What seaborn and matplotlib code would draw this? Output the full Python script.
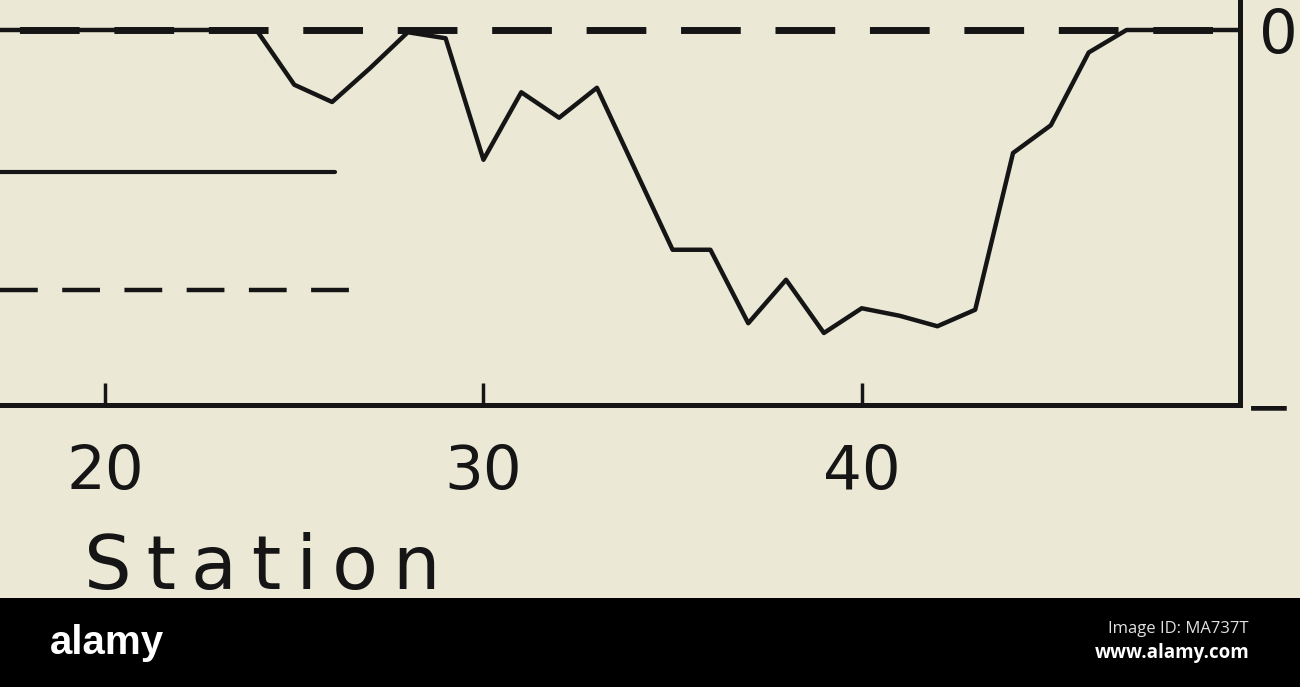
import numpy as np
import pandas as pd
import matplotlib
matplotlib.use("Agg")
import matplotlib.pyplot as plt
import matplotlib.transforms as mtransforms
from matplotlib.patches import Rectangle
import seaborn as sns

# ---- data ----
stations = [17, 18, 19, 20, 21, 22, 23, 24, 25, 26, 27, 28, 29, 30, 31, 32, 33,
            34, 35, 36, 37, 38, 39, 40, 41, 42, 43, 44, 45, 46, 47, 48, 49, 50]
values = [0.0, 0.0, 0.0, 0.0, 0.0, 0.0, 0.0, 0.0, -0.73, -0.96, -0.51, -0.03,
          -0.11, -1.73, -0.83, -1.17, -0.77, -1.85, -2.93, -2.93, -3.91, -3.33,
          -4.04, -3.71, -3.81, -3.95, -3.73, -1.64, -1.27, -0.30, 0.0, 0.0, 0.0, 0.0]
x_ticks = [20, 30, 40]
x_tick_labels = ["20", "30", "40"]
y_ticks = [0]
y_tick_labels = ["0"]
y_bottom = -5
y_bottom_label = "\u2212"
x_label = "S\u2009t\u2009a\u2009t\u2009i\u2009o\u2009n"

df = pd.DataFrame({"station": stations, "value": values})

BG = "#ebe8d6"
INK = "#151515"

sns.set_theme(style="white")
plt.rcParams["font.family"] = ["DejaVu Sans"]

fig = plt.figure(figsize=(13, 6.87), dpi=100)
fig.patch.set_facecolor(BG)

ax = fig.add_axes([0.0, 282 / 687, 1240 / 1300, 405 / 687])
ax.set_facecolor(BG)

# zero reference line (thick dashes)
ax.axhline(0, color=INK, lw=5, linestyle=(10.8, (8.6, 5.0)), zorder=2)

# data line
sns.lineplot(data=df, x="station", y="value", color=INK, lw=3.2, ax=ax,
             zorder=3, legend=False)

# legend key samples (their labels lie outside the cropped view)
ax.plot([0, 0.270], [0.575, 0.575], transform=ax.transAxes, color=INK, lw=3.0)
ax.plot([0, 0.284], [0.284, 0.284], transform=ax.transAxes, color=INK, lw=3.2,
        linestyle=(0, (8.5, 5.5)))

ax.set_xlim(17.22, 50)
ax.set_ylim(y_bottom, 0.4)

for s in ["left", "top"]:
    ax.spines[s].set_visible(False)
for s in ["right", "bottom"]:
    ax.spines[s].set_visible(True)
    ax.spines[s].set_color(INK)
    ax.spines[s].set_linewidth(3.6)

ax.set_xticks(x_ticks)
ax.set_xticklabels(x_tick_labels)
ax.tick_params(axis="x", direction="in", length=16, width=2.5, color=INK,
               labelsize=44, pad=27, labelcolor=INK, bottom=True)

ax.yaxis.tick_right()
ax.set_yticks(y_ticks)
ax.set_yticklabels(y_tick_labels)
ax.tick_params(axis="y", length=0, labelsize=44, pad=14, labelcolor=INK,
               left=False, right=True)
ax.set_xlabel("")
ax.set_ylabel("")

# partly visible label at the bottom of the right axis
blend = mtransforms.blended_transform_factory(ax.transAxes, ax.transData)
shift = mtransforms.ScaledTranslation(0, -5 / 100, fig.dpi_scale_trans)
ax.text(1.0 + 5 / 1240, y_bottom, y_bottom_label, transform=blend + shift,
        fontsize=41, color=INK, ha="left", va="center", clip_on=False)

fig.text(262 / 1300, 1 - 569 / 687, x_label, fontsize=54, color=INK,
         ha="center", va="center")

# black footer band
fig.patches.append(Rectangle((0, 0), 1, 89 / 687, transform=fig.transFigure,
                             facecolor="black", edgecolor="none", zorder=0))
fig.text(50 / 1300, 1 - 643 / 687, "alamy", color="white", fontsize=29,
         fontweight="bold", family=["Liberation Sans Narrow", "Liberation Sans", "DejaVu Sans"],
         ha="left", va="center")
fig.text(1248 / 1300, 1 - 629 / 687, "Image ID: MA737T", color="#e0e0e0",
         fontsize=12, family=["Open Sans", "DejaVu Sans"], ha="right", va="center")
fig.text(1250 / 1300, 1 - 653 / 687, "www.alamy.com", color="white",
         fontsize=13.5, fontweight="bold", family=["Open Sans", "DejaVu Sans"],
         ha="right", va="center")

fig.savefig("out.png", dpi=100, facecolor=BG)
